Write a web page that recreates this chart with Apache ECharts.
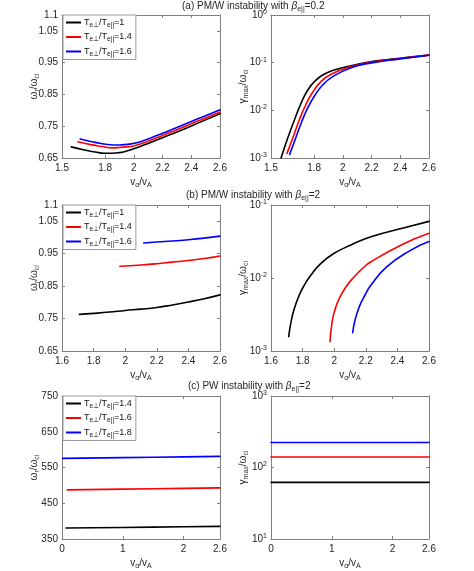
<!DOCTYPE html>
<html>
<head>
<meta charset="utf-8">
<script src="https://cdn.jsdelivr.net/npm/echarts@6/dist/echarts.min.js"></script>
<style>
  html, body { margin: 0; padding: 0; background: #fff; }
  #main { width: 474px; height: 571px; }
</style>
</head>
<body>
<div id="main"></div>
<script>
// (a) PM/W, beta=0.2 : omega_r
const aOmBlack = [[1.565,0.685],[1.65,0.676],[1.73,0.669],[1.8,0.665],[1.85,0.665],[1.9,0.667],[1.95,0.672],[2.0,0.679],[2.05,0.687],[2.1,0.696],[2.2,0.714],[2.3,0.732],[2.4,0.751],[2.5,0.770],[2.6,0.789]];
const aOmRed   = [[1.611,0.701],[1.7,0.692],[1.78,0.686],[1.85,0.682],[1.9,0.683],[1.95,0.685],[2.0,0.688],[2.05,0.695],[2.1,0.703],[2.2,0.721],[2.3,0.739],[2.4,0.758],[2.5,0.776],[2.6,0.795]];
const aOmBlue  = [[1.627,0.710],[1.7,0.702],[1.78,0.695],[1.86,0.691],[1.9,0.691],[1.95,0.693],[2.0,0.696],[2.05,0.702],[2.1,0.710],[2.2,0.728],[2.3,0.746],[2.4,0.765],[2.5,0.783],[2.6,0.802]];
// (a) gamma_max
const aGaBlack = [[1.570,0.001],[1.616,0.00259],[1.663,0.00627],[1.709,0.014],[1.756,0.0267],[1.802,0.040],[1.86,0.055],[1.941,0.0702],[2.057,0.0865],[2.2,0.105],[2.3,0.115],[2.4,0.124],[2.5,0.134],[2.6,0.145]];
const aGaRed   = [[1.611,0.00125],[1.651,0.00259],[1.697,0.00627],[1.744,0.0134],[1.79,0.0239],[1.848,0.040],[1.918,0.0569],[2.057,0.0826],[2.2,0.102],[2.4,0.122],[2.6,0.144]];
const aGaBlue  = [[1.63,0.00119],[1.667,0.00239],[1.714,0.00578],[1.76,0.0119],[1.807,0.021],[1.86,0.034],[1.93,0.0508],[2.057,0.0786],[2.2,0.099],[2.4,0.12],[2.6,0.143]];
// (b) PM/W, beta=2
const bOmBlack = [[1.71,0.763],[1.8,0.766],[1.9,0.770],[2.0,0.775],[2.1,0.779],[2.2,0.784],[2.3,0.792],[2.4,0.801],[2.5,0.811],[2.6,0.823]];
const bOmRed   = [[1.966,0.911],[2.1,0.915],[2.2,0.919],[2.3,0.924],[2.4,0.929],[2.5,0.935],[2.6,0.943]];
const bOmBlue  = [[2.117,0.983],[2.2,0.986],[2.3,0.989],[2.4,0.993],[2.5,0.998],[2.6,1.004]];
const bGaBlack = [[1.712,0.00157],[1.727,0.00252],[1.748,0.00384],[1.779,0.00585],[1.811,0.0080],[1.853,0.011],[1.916,0.0159],[2.0,0.0218],[2.106,0.0283],[2.233,0.0368],[2.437,0.0484],[2.6,0.0597]];
const bGaRed   = [[1.973,0.00134],[1.984,0.00227],[2.001,0.00346],[2.032,0.00526],[2.075,0.0076],[2.127,0.0104],[2.18,0.0136],[2.233,0.0167],[2.437,0.0292],[2.6,0.041]];
const bGaBlue  = [[2.117,0.00178],[2.132,0.00266],[2.159,0.00405],[2.195,0.00585],[2.233,0.0080],[2.332,0.0142],[2.48,0.0237],[2.6,0.0315]];
// (c) PW, beta=2
const cOmBlack = [[0.065,380.6],[1,382.2],[2,384.2],[2.6,385.3]];
const cOmRed   = [[0.087,487.4],[1,489.4],[2,491.7],[2.6,493]];
const cOmBlue  = [[0.01,575.5],[1,577.6],[2,579.8],[2.6,581]];
const cGaBlack = [[0,62],[2.6,62]];
const cGaRed   = [[0,140],[2.6,140]];
const cGaBlue  = [[0,224],[2.6,224]];

const legendAB = ['1', '1.4', '1.6'];
const legendC = ['1.4', '1.6', '1.8'];
const xTicksA = [1.5, 1.8, 2, 2.2, 2.4, 2.6];
const xTicksB = [1.6, 1.8, 2, 2.2, 2.4, 2.6];
const xTicksC = [0, 1, 2, 2.6];
const yTicksOm = [0.65, 0.75, 0.85, 0.95, 1.05, 1.1];
const yTicksOmC = [350, 450, 550, 650, 750];

const colors = ['#000000', '#ff0000', '#0000ff'];
const axisColor = '#808080';
const txt = '#262626';
const FONT = 'Liberation Sans';

const rich = {
  n: { fontSize: 10, color: txt, fontFamily: FONT, fontWeight: 'normal' },
  g: { fontSize: 10, color: txt, fontFamily: FONT, fontWeight: 'normal', fontStyle: 'italic' },
  s: { fontSize: 7, color: txt, fontFamily: FONT, fontWeight: 'normal', padding: [6, 0, 0, 0] },
  sup: { fontSize: 7, color: txt, fontFamily: FONT, fontWeight: 'normal', padding: [0, 0, 6, 0] }
};
const legendRich = {
  n: { fontSize: 9, color: '#111', fontFamily: FONT },
  s: { fontSize: 6.5, color: '#111', fontFamily: FONT, padding: [5, 0, 0, 0] }
};

const grids = [
  { left: 62, top: 15, width: 158, height: 143 },
  { left: 271, top: 15, width: 158, height: 143 },
  { left: 62, top: 205, width: 158, height: 146 },
  { left: 271, top: 205, width: 158, height: 146 },
  { left: 62, top: 396, width: 158, height: 143 },
  { left: 271, top: 396, width: 158, height: 143 }
];

const xName = '{n|v}{s|α}{n|/v}{s|A}';
const omName = '{n|ω}{s|r}{n|/ω}{s|ci}';
const gaName = '{n|γ}{s|max}{n|/ω}{s|ci}';

function logLabel(v) {
  return '{n|10}{sup|' + Math.round(Math.log10(v)) + '}';
}

let xAxis = [];
let yAxis = [];
function addX(gi, min, max, ticks) {
  ['bottom', 'top'].forEach(function (pos) {
    xAxis.push({
      type: 'value', gridIndex: gi, min: min, max: max, position: pos,
      axisLine: { show: true, onZero: false, lineStyle: { color: axisColor, width: 1 } },
      axisTick: { show: true, inside: true, length: 3, customValues: ticks, lineStyle: { color: axisColor } },
      axisLabel: { show: pos === 'bottom', customValues: ticks, fontSize: 10, color: txt, fontFamily: FONT, margin: 5 },
      splitLine: { show: false },
      name: pos === 'bottom' ? xName : '',
      nameLocation: 'middle', nameGap: 18, nameMoveOverlap: false,
      nameTextStyle: { rich: rich }
    });
  });
}
function addY(gi, type, min, max, ticks, name) {
  ['left', 'right'].forEach(function (pos) {
    let ax = {
      type: type, gridIndex: gi, min: min, max: max, position: pos,
      axisLine: { show: true, onZero: false, lineStyle: { color: axisColor, width: 1 } },
      axisTick: { show: true, inside: true, length: 3, lineStyle: { color: axisColor } },
      axisLabel: { show: pos === 'left', fontSize: 10, color: txt, fontFamily: FONT, margin: 4 },
      splitLine: { show: false },
      name: pos === 'left' ? name : '',
      nameLocation: 'middle', nameGap: 21, nameMoveOverlap: false,
      nameTextStyle: { rich: rich }
    };
    if (type === 'log') {
      ax.logBase = 10;
      ax.axisLabel.formatter = logLabel;
      ax.axisLabel.rich = rich;
    } else {
      ax.axisTick.customValues = ticks;
      ax.axisLabel.customValues = ticks;
    }
    yAxis.push(ax);
  });
}

addX(0, 1.5, 2.6, xTicksA); addY(0, 'value', 0.65, 1.1, yTicksOm, omName);
addX(1, 1.5, 2.6, xTicksA); addY(1, 'log', 0.001, 1, null, gaName);
addX(2, 1.6, 2.6, xTicksB); addY(2, 'value', 0.65, 1.1, yTicksOm, omName);
addX(3, 1.6, 2.6, xTicksB); addY(3, 'log', 0.001, 0.1, null, gaName);
addX(4, 0, 2.6, xTicksC); addY(4, 'value', 350, 750, yTicksOmC, omName);
addX(5, 0, 2.6, xTicksC); addY(5, 'log', 10, 1000, null, gaName);

const panels = [
  [aOmBlack, aOmRed, aOmBlue], [aGaBlack, aGaRed, aGaBlue],
  [bOmBlack, bOmRed, bOmBlue], [bGaBlack, bGaRed, bGaBlue],
  [cOmBlack, cOmRed, cOmBlue], [cGaBlack, cGaRed, cGaBlue]
];
const rowKey = ['a', 'a', 'b', 'b', 'c', 'c'];

let series = [];
panels.forEach(function (p, gi) {
  p.forEach(function (d, k) {
    series.push({
      type: 'line',
      name: rowKey[gi] + k,
      xAxisIndex: gi * 2, yAxisIndex: gi * 2,
      data: d,
      showSymbol: false, symbol: 'none',
      smooth: 0.5,
      lineStyle: { color: colors[k], width: 1.6, cap: 'round', join: 'round' },
      itemStyle: { color: colors[k] }
    });
  });
});

function legendText(name) {
  const vals = name[0] === 'c' ? legendC : legendAB;
  return '{n|T}{s|e⊥}{n|/T}{s|e||}{n|=' + vals[+name[1]] + '}';
}
function makeLegend(key, top) {
  return {
    left: 63, top: top, orient: 'vertical',
    data: [key + '0', key + '1', key + '2'],
    icon: 'rect', itemWidth: 15, itemHeight: 2, itemGap: 4,
    padding: [3, 4, 2, 3],
    borderColor: '#9a9a9a', borderWidth: 1, backgroundColor: '#fff',
    formatter: legendText,
    textStyle: { rich: legendRich, padding: [0, 0, 0, -2] },
    selectedMode: false
  };
}

function makeTitle(text, left, top) {
  return {
    text: text, left: left, top: top, padding: 0,
    textStyle: { rich: rich, fontWeight: 'normal' }
  };
}

var chart = echarts.init(document.getElementById('main'), null, { renderer: 'canvas' });
var option = {
  animation: false,
  backgroundColor: '#fff',
  title: [
    makeTitle('{n|(a) PM/W instability with }{g|β}{s|e||}{n|=0.2}', 182, 0),
    makeTitle('{n|(b) PM/W instability with }{g|β}{s|e||}{n|=2}', 186, 189),
    makeTitle('{n|(c) PW instability with }{g|β}{s|e||}{n|=2}', 188, 380)
  ],
  legend: [makeLegend('a', 15), makeLegend('b', 205), makeLegend('c', 396)],
  grid: grids,
  xAxis: xAxis,
  yAxis: yAxis,
  series: series
};
chart.setOption(option);
</script>
</body>
</html>
